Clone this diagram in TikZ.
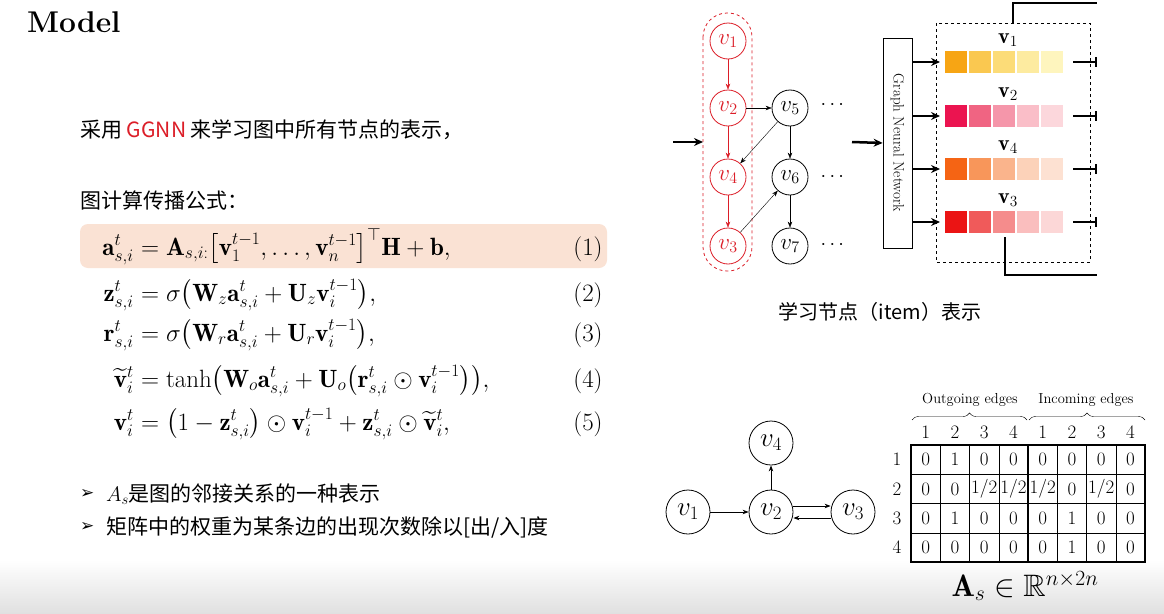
\RequirePackage{fix-cm}
\documentclass[tikz,border=0pt]{standalone}
\usepackage{amsmath,amssymb}
\usepackage{fontspec}
\newfontfamily\cjk{Noto Sans CJK SC}
\newfontfamily\dejavu{DejaVu Sans}
\usetikzlibrary{arrows.meta,decorations.pathreplacing}
\definecolor{redd}{RGB}{220,30,40}
\definecolor{peach}{RGB}{250,226,212}
\tikzset{
 vn/.style={circle,draw,thick,minimum size=36pt,inner sep=0pt,font=\fontsize{23}{24}\selectfont},
 rvn/.style={vn,draw=redd,text=redd},
 bn/.style={circle,draw,thick,minimum size=44pt,inner sep=0pt,font=\fontsize{27}{28}\selectfont},
 ar/.style={-{Stealth[length=6pt]},thin},
 thar/.style={-{Stealth[length=9pt,width=8pt]},line width=2.5pt},
 eq/.style={font=\fontsize{25}{28}\selectfont,inner sep=0pt},
 cn/.style={font=\cjk\fontsize{21}{24}\selectfont,inner sep=0pt,anchor=west},
 mt/.style={font=\fontsize{19}{20}\selectfont,inner sep=0pt},
}
\begin{document}
\begin{tikzpicture}[x=1pt,y=-1pt]
\useasboundingbox (0,0) rectangle (1164,613);
\fill[white] (0,0) rectangle (1164,613);
\shade[top color=white,bottom color=black!12] (0,560) rectangle (1164,613);
% left text
\node[anchor=west,inner sep=0pt,font=\bfseries\fontsize{30}{32}\selectfont] (title) at (27,22) {Model};
\node[cn] (l1) at (80,130) {采用 \textcolor{redd}{GGNN} 来学习图中所有节点的表示，};
\node[cn] (l2) at (80,200) {图计算传播公式：};
\fill[peach,rounded corners=8pt] (80,224) rectangle (607,268);
\node[eq,anchor=base east] (a1) at (134,255) {$\mathbf{a}^t_{s,i}$};
\node[eq,anchor=base west] (e1) at (134,255) {${}={}\mathbf{A}_{s,i:}\bigl[\mathbf{v}_1^{t-1},\ldots,\mathbf{v}_n^{t-1}\bigr]^{\top}\mathbf{H}+\mathbf{b},$};
\node[eq,anchor=base east] (a2) at (134,301) {$\mathbf{z}^t_{s,i}$};
\node[eq,anchor=base west] (e2) at (134,301) {${}={}\sigma\bigl(\mathbf{W}_z\mathbf{a}^t_{s,i}+\mathbf{U}_z\mathbf{v}_i^{t-1}\bigr),$};
\node[eq,anchor=base east] (a3) at (134,341) {$\mathbf{r}^t_{s,i}$};
\node[eq,anchor=base west] (e3) at (134,341) {${}={}\sigma\bigl(\mathbf{W}_r\mathbf{a}^t_{s,i}+\mathbf{U}_r\mathbf{v}_i^{t-1}\bigr),$};
\node[eq,anchor=base east] (a4) at (134,387) {$\widetilde{\mathbf{v}}^t_{i}$};
\node[eq,anchor=base west] (e4) at (134,387) {${}=\tanh\bigl(\mathbf{W}_o\mathbf{a}^t_{s,i}+\mathbf{U}_o\bigl(\mathbf{r}^t_{s,i}\odot\mathbf{v}_i^{t-1}\bigr)\bigr),$};
\node[eq,anchor=base east] (a5) at (134,430) {$\mathbf{v}^t_{i}$};
\node[eq,anchor=base west] (e5) at (134,430) {${}={}\bigl(1-\mathbf{z}^t_{s,i}\bigr)\odot\mathbf{v}_i^{t-1}+\mathbf{z}^t_{s,i}\odot\widetilde{\mathbf{v}}^t_{i},$};
\foreach \n/\y in {1/255,2/301,3/341,4/387,5/430} \node[eq,anchor=base] (n\n) at (588,\y) {(\n)};
\node[anchor=west,inner sep=0pt,font=\dejavu\fontsize{17}{18}\selectfont] (b1) at (80,494) {➢};
\node[cn] (t1) at (106,494) {$A_s$是图的邻接关系的一种表示};
\node[anchor=west,inner sep=0pt,font=\dejavu\fontsize{17}{18}\selectfont] (b2) at (80,527) {➢};
\node[cn] (t2) at (106,527) {矩阵中的权重为某条边的出现次数除以[出/入]度};
% top right graph
\draw[redd,dashed,thick,rounded corners=24pt] (703,13) rectangle (752,271);
\node[rvn] (v1) at (728,41) {$v_1$};
\node[rvn] (v2) at (728,108) {$v_2$};
\node[rvn] (v4) at (728,177) {$v_4$};
\node[rvn] (v3) at (728,246) {$v_3$};
\node[vn] (v5) at (790,108) {$v_5$};
\node[vn] (v6) at (790,177) {$v_6$};
\node[vn] (v7) at (790,246) {$v_7$};
\foreach \y/\k in {108/a,180/b,248/c} \node[font=\fontsize{20}{20}\selectfont] (d\k) at (834,\y-3) {$\cdots$};
\draw[ar,redd] (v1)--(v2); \draw[ar,redd] (v2)--(v4); \draw[ar,redd] (v4)--(v3);
\draw[ar] (v2)--(v5); \draw[ar] (v5)--(v4); \draw[ar] (v5)--(v6); \draw[ar] (v6)--(v7); \draw[ar] (v3)--(v6);
\coordinate (in0) at (673,142); \coordinate (in1) at (703,142);
\draw[thar] (in0)--(in1);
\node[draw,thick,minimum width=29pt,minimum height=210pt,inner sep=0pt] (gnn) at (897.5,143) {};
\node[rotate=-90,font=\fontsize{15}{16}\selectfont] (gl) at (gnn.center) {Graph Neural Network};
\coordinate (g0) at (852,142);
\draw[thar] (g0)--(gnn.west);
\draw[dashed,thick] (936,23) rectangle (1090,262);
\foreach \i/\lab/\y/\ca/\cb/\cc/\cd/\ce in {
 1/1/62/{247,165,20}/{250,200,80}/{252,220,120}/{253,235,160}/{254,245,190},
 2/2/116/{235,20,80}/{240,100,130}/{245,150,170}/{250,190,200}/{252,215,220},
 3/4/169/{245,100,20}/{248,150,90}/{250,180,140}/{252,210,185}/{253,225,210},
 4/3/222/{235,20,20}/{240,90,90}/{245,140,140}/{250,190,190}/{252,215,215}}{
  \foreach \c [count=\k from 0] in {\ca,\cb,\cc,\cd,\ce}{
    \definecolor{cc}{RGB}{\c}
    \fill[cc] (945+\k*24,\y-11) rectangle (967+\k*24,\y+11);
  }
  \node[font=\fontsize{22}{24}\selectfont,inner sep=0pt] (lab\i) at (1008,\y-22) {$\mathbf{v}_{\lab}$};
  \coordinate (bi\i) at (940,\y); \coordinate (bo\i) at (1073,\y); \coordinate (be\i) at (1097,\y);
  \draw[thar] (gnn.east|-bi\i)--(bi\i);
  \draw[line width=2.5pt,-{Bar[width=10pt]}] (bo\i)--(be\i);
}
\coordinate (ta) at (1013,23); \coordinate (tb) at (1013,3); \coordinate (tc) at (1097,3);
\draw[line width=2.5pt] (ta)--(tb)--(tc);
\coordinate (ba) at (1005,237); \coordinate (bb) at (1005,275); \coordinate (bc) at (1097,275);
\draw[line width=2.5pt] (ba)--(bb)--(bc);
\node[font=\cjk\fontsize{20}{22}\selectfont,inner sep=0pt] (cap) at (880,312) {学习节点（item）表示};
% bottom graph
\node[bn] (u4) at (771,443) {$v_4$};
\node[bn] (u1) at (688,512) {$v_1$};
\node[bn] (u2) at (771,512) {$v_2$};
\node[bn] (u3) at (853,512) {$v_3$};
\draw[ar,thick] (u1)--(u2); \draw[ar,thick] (u2)--(u4);
\draw[ar,thick] ([yshift=6pt]u2.east)--([yshift=6pt]u3.west);
\draw[ar,thick] ([yshift=-6pt]u3.west)--([yshift=-6pt]u2.east);
% matrix
\foreach \r [count=\ri] in {{0,1,0,0,0,0,0,0},{0,0,1/2,1/2,1/2,0,1/2,0},{0,1,0,0,0,1,0,0},{0,0,0,0,0,1,0,0}}{
  \node[mt] (rl\ri) at (897,445+\ri*29.25-14.6) {\ri};
  \foreach \v [count=\ci] in \r {
    \node[mt,draw,minimum width=29.25pt,minimum height=29.25pt] (m\ri\ci) at (911+\ci*29.25-14.6,445+\ri*29.25-14.6) {\v};
  }
}
\foreach \c [count=\ci] in {1,2,3,4,1,2,3,4} \node[mt] (cl\ci) at (m1\ci|-0,432) {\c};
\draw[line width=1.6pt] (m11.north west) rectangle (m48.south east);
\draw[line width=1.6pt] (m14.north east)--(m44.south east);
\draw[decorate,decoration={brace,amplitude=7pt}] (912,420)--(1027,420);
\draw[decorate,decoration={brace,amplitude=7pt}] (1029,420)--(1145,420);
\node[font=\fontsize{14.5}{16}\selectfont] (og) at (970,400) {Outgoing edges};
\node[font=\fontsize{14.5}{16}\selectfont] (ie) at (1086,400) {Incoming edges};
\node[font=\fontsize{31}{33}\selectfont] (as) at (1025,586) {$\mathbf{A}_s\in\mathbb{R}^{n\times 2n}$};
\end{tikzpicture}
\end{document}
